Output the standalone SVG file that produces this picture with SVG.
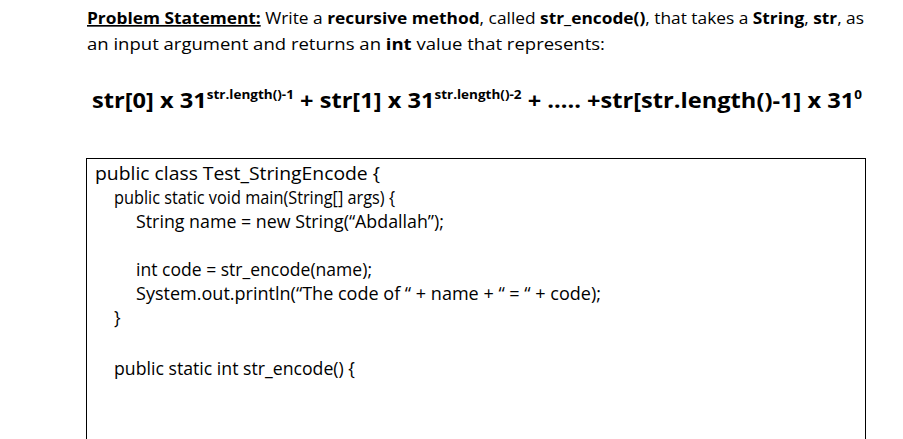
<svg xmlns="http://www.w3.org/2000/svg" width="903" height="439" viewBox="0 0 903 439">
<style>
text{font-family:"Open Sans","Liberation Sans",sans-serif;fill:#000}
.p{font-size:16.5px}
.f{font-size:21px;font-weight:bold}
.s{font-size:12px;font-weight:bold}
.c{font-size:17.5px}
</style>
<rect width="903" height="439" fill="#fff"/>
<text class="p" x="87" y="24" textLength="777" lengthAdjust="spacingAndGlyphs"><tspan font-weight="bold" text-decoration="underline">Problem Statement:</tspan> Write a <tspan font-weight="bold">recursive method</tspan>, called <tspan font-weight="bold">str_encode()</tspan>, that takes a <tspan font-weight="bold">String</tspan>, <tspan font-weight="bold">str</tspan>, as</text>
<text class="p" x="87" y="50" textLength="518" lengthAdjust="spacingAndGlyphs">an input argument and returns an <tspan font-weight="bold">int</tspan> value that represents:</text>
<text class="f" x="92" y="108" textLength="770" lengthAdjust="spacingAndGlyphs">str[0] x 31<tspan class="s" dy="-9">str.length()-1</tspan><tspan dy="9"> + str[1] x 31</tspan><tspan class="s" dy="-9">str.length()-2</tspan><tspan dy="9"> + ….. +str[str.length()-1] x 31</tspan><tspan class="s" dy="-9">0</tspan></text>
<rect x="86.5" y="158.5" width="779" height="290" fill="none" stroke="#000" stroke-width="1"/>
<g>
<text class="c" x="95" y="180" textLength="285" lengthAdjust="spacingAndGlyphs">public class Test_StringEncode {</text>
<text class="c" x="114" y="204" textLength="281" lengthAdjust="spacingAndGlyphs">public static void main(String[] args) {</text>
<text class="c" x="136" y="228" textLength="308" lengthAdjust="spacingAndGlyphs">String name = new String(“Abdallah”);</text>
<text class="c" x="136" y="276" textLength="236" lengthAdjust="spacingAndGlyphs">int code = str_encode(name);</text>
<text class="c" x="136" y="300" textLength="465" lengthAdjust="spacingAndGlyphs">System.out.println(“The code of “ + name + “ = “ + code);</text>
<text class="c" x="114" y="324">}</text>
<text class="c" x="114" y="375" textLength="241" lengthAdjust="spacingAndGlyphs">public static int str_encode() {</text>
</g>
</svg>
